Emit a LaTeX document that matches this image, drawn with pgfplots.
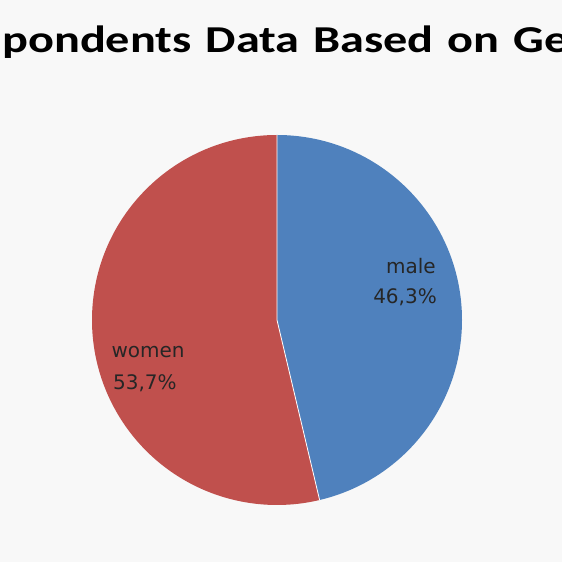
\documentclass[border=0pt]{standalone}
\usepackage{pgfplots}
\pgfplotsset{compat=1.18}
\usepackage{pgfplotstable}
\usepackage{fontspec}
\setmainfont{DejaVu Sans}
\newfontfamily\titlefont{Carlito}

\definecolor{maleblue}{RGB}{79,129,189}
\definecolor{womenred}{RGB}{192,80,77}
\definecolor{bg}{RGB}{248,248,248}

% gender shares, percent
\pgfplotstableread{
group share
male  46.3
women 53.7
}\gendertable

\newcommand{\wsp}{\hspace{11pt}}

\begin{document}
\begin{tikzpicture}
\useasboundingbox[fill=bg] (0pt,0pt) rectangle (562pt,562pt);
\clip (0pt,0pt) rectangle (562pt,562pt);
\node[font=\titlefont\bfseries\fontsize{38}{44}\selectfont, anchor=base, xscale=1.27]
  at (297pt,509.5pt) {Respondents\wsp Data\wsp Based\wsp on\wsp Gender};
\pgfplotstablegetelem{0}{share}\of\gendertable
\pgfmathsetmacro{\maleend}{90-3.6*\pgfplotsretval}
\pgfmathsetmacro{\womenend}{\maleend+360}
\pgfmathsetmacro{\ex}{cos(\maleend)}
\pgfmathsetmacro{\ey}{sin(\maleend)}
\begin{axis}[
    at={(277pt,242pt)}, anchor=origin,
    x=185pt, y=185pt,
    xmin=-1, xmax=1, ymin=-1, ymax=1,
    hide axis, clip=false,
  ]
  \fill[maleblue] (axis cs:0,0) -- (axis cs:0,1)
    arc[start angle=90, end angle=\maleend, radius=185pt] -- cycle;
  \fill[womenred] (axis cs:0,0) -- (axis cs:0,1)
    arc[start angle=90, end angle=\womenend, radius=185pt] -- cycle;
  \draw[white, line width=0.8pt] (axis cs:0,1) -- (axis cs:0,0)
    -- (axis cs:\ex,\ey);
  \node[text=black!85, font=\fontsize{20}{24}\selectfont]
    at (axis cs:0.724,0.292) {male};
  \node[text=black!85, font=\fontsize{20}{24}\selectfont]
    at (axis cs:0.692,0.124) {46,3\%};
  \node[text=black!85, font=\fontsize{20}{24}\selectfont]
    at (axis cs:-0.697,-0.173) {women};
  \node[text=black!85, font=\fontsize{20}{24}\selectfont]
    at (axis cs:-0.714,-0.341) {53,7\%};
\end{axis}
\end{tikzpicture}
\end{document}
